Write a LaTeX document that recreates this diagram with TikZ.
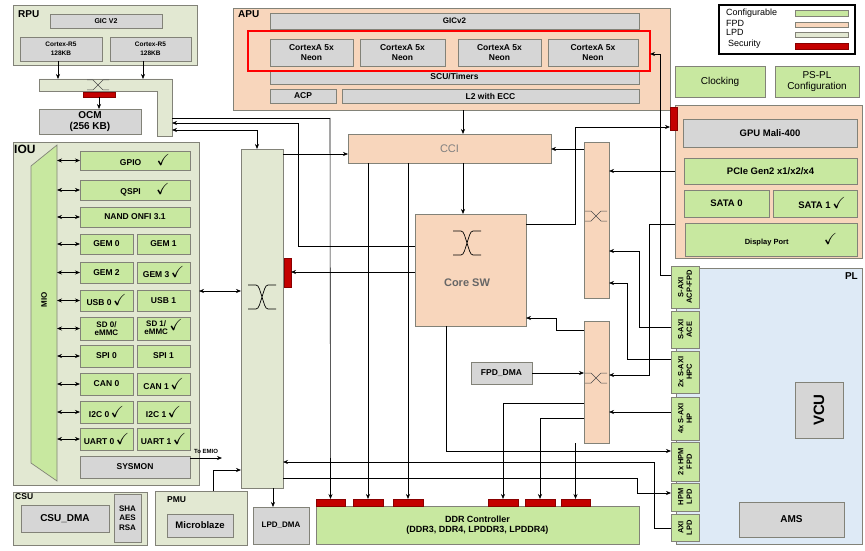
\documentclass[tikz,border=0pt]{standalone}
\usepackage{fontspec}
\usepackage{amssymb}
\setmainfont{Liberation Sans}
\usetikzlibrary{arrows.meta}
\definecolor{cfg}{RGB}{200,232,160}
\definecolor{fpd}{RGB}{248,214,188}
\definecolor{lpd}{RGB}{226,232,210}
\definecolor{gbox}{RGB}{214,214,214}
\definecolor{sec}{RGB}{196,0,0}
\definecolor{plc}{RGB}{222,234,246}
\definecolor{edge}{RGB}{130,130,120}
\newcommand\bx[7]{\node[#2,anchor=north west,minimum width={#5pt-#3pt},minimum height={#6pt-#4pt}] (#1) at (#3,#4) {#7};}
\newcommand\ck{\,{\fontsize{16}{16}\selectfont$\checkmark$}}
\tikzset{
 box/.style={draw=edge,line width=0.7pt,inner sep=1pt,outer sep=0pt,align=center,font=\fontsize{8.5}{9.5}\selectfont\bfseries},
 cf/.style={box,fill=cfg}, fp/.style={box,fill=fpd}, lp/.style={box,fill=lpd},
 gr/.style={box,fill=gbox}, sc/.style={box,fill=sec,draw=sec!70!black},
 pl/.style={box,fill=plc},
 port/.style={cf},
 ttl/.style={anchor=north west,inner sep=0pt,font=\fontsize{10}{11}\selectfont\bfseries},
 arr/.style={-{Stealth[length=5pt,width=4pt]},line width=0.6pt},
 dbl/.style={{Stealth[length=5pt,width=4pt]}-{Stealth[length=5pt,width=4pt]},line width=0.6pt},
 ln/.style={line width=0.6pt},
 xs/.pic={\draw[line width=0.7pt] (-14,-12)--(-6,-12) .. controls (-3,-12) and (-2,-6) .. (0,0) .. controls (2,6) and (3,12) .. (6,12)--(14,12) (-14,12)--(-6,12) .. controls (-3,12) and (-2,6) .. (0,0) .. controls (2,-6) and (3,-12) .. (6,-12)--(14,-12);},
 xss/.pic={\draw[line width=0.5pt,gray!60!black] (-11,-5)--(-5,-5)--(5,5)--(11,5) (-11,5)--(-5,5)--(5,-5)--(11,-5);}
}
\begin{document}
\begin{tikzpicture}[x=1pt,y=-1pt]
\useasboundingbox[fill=white] (0,0) rectangle (865,551);
% RPU
\bx{rpu}{lp}{13}{5}{197}{65}{}
\node[ttl] at (18,10) {RPU};
\bx{gicr}{gr,font=\fontsize{7}{8}\selectfont\bfseries}{50}{14}{162}{28}{GIC V2}
\bx{r5a}{gr,font=\fontsize{6.5}{9}\selectfont\bfseries}{20}{37}{102}{61}{Cortex-R5\\128KB}
\bx{r5b}{gr,font=\fontsize{6.5}{9}\selectfont\bfseries}{110}{37}{191}{61}{Cortex-R5\\128KB}
\draw[lp] (39,79)--(172,79)--(172,136)--(157,136)--(157,91)--(39,91)--cycle;
\coordinate (ocmi) at (164,79);
\pic at (98,85) {xss};
\bx{ocmsec}{sc}{83}{92}{115}{97}{}
\bx{ocm}{gr,font=\fontsize{10}{11}\selectfont\bfseries}{39}{109}{141}{134}{OCM\\(256 KB)}
\coordinate (ri1) at (58,79); \coordinate (ri2) at (143,79);
\draw[arr] (r5a.south -| ri1) -- (ri1);
\draw[arr] (r5b.south -| ri2) -- (ri2);
\draw[arr] (ocmsec.south) -- (ocm.north -| ocmsec.south);
% APU
\bx{apu}{fp}{233}{8}{670}{110}{}
\node[ttl] at (238,10) {APU};
\bx{gicv}{gr,font=\fontsize{8}{9}\selectfont\bfseries}{270}{13}{639}{29}{GICv2}
\begin{scope}[every node/.append style={font=\fontsize{8}{9.5}\selectfont\bfseries}]
\bx{ca1}{gr}{270}{39}{353}{66}{CortexA 5x\\Neon}
\bx{ca2}{gr}{360}{39}{445}{66}{CortexA 5x\\Neon}
\bx{ca3}{gr}{458}{39}{541}{66}{CortexA 5x\\Neon}
\bx{ca4}{gr}{548}{39}{638}{66}{CortexA 5x\\Neon}
\bx{scu}{gr}{270}{70}{639}{84}{SCU/Timers}
\bx{acp}{gr}{270}{89}{336}{103}{ACP}
\bx{l2}{gr}{342}{89}{639}{103}{L2 with ECC}
\end{scope}
\draw[red,line width=1.6pt] (248,31) rectangle (650,71);
\coordinate (redr) at (650,54);
% legend
\draw[line width=1.2pt] (719,5) rectangle (855,54);
\begin{scope}[every node/.style={anchor=west,inner sep=0pt,font=\fontsize{9}{10}\selectfont}]
\node (lg1) at (726,13) {Configurable};
\node (lg2) at (726,23) {FPD};
\node (lg3) at (726,32) {LPD};
\node (lg4) at (728,44) {Security};
\end{scope}
\bx{sw1}{cf}{795}{10}{848}{16}{}
\bx{sw2}{fp}{795}{22}{848}{27}{}
\bx{sw3}{lp}{795}{32}{848}{37}{}
\bx{sw4}{sc}{795}{43}{848}{49}{}
\bx{clk}{cf,font=\fontsize{10}{11}\selectfont}{675}{66}{765}{97}{Clocking}
\bx{pspl}{cf,font=\fontsize{10}{11}\selectfont}{775}{66}{859}{97}{PS-PL\\Configuration}
% FPD peripherals
\bx{fpdr}{fp}{675}{105}{862}{258}{}
\bx{gpusec}{sc}{670}{107}{677}{130}{}
\bx{gpu}{gr,font=\fontsize{9.5}{10}\selectfont\bfseries}{683}{119}{857}{147}{GPU Mali-400}
\bx{pcie}{cf,font=\fontsize{9.5}{10}\selectfont\bfseries}{684}{158}{857}{184}{PCIe Gen2 x1/x2/x4}
\bx{sata0}{cf,font=\fontsize{9.5}{10}\selectfont\bfseries}{684}{190}{769}{217}{SATA 0}
\bx{sata1}{cf,font=\fontsize{9.5}{10}\selectfont\bfseries}{773}{190}{857}{217}{\hspace{14pt}SATA 1\ck}
\bx{dp}{cf}{685}{223}{857}{256}{\hspace{40pt}{\fontsize{7.5}{8}\selectfont Display Port}\hspace{34pt}\ck}
% PL
\bx{pl}{pl}{676}{268}{862}{544}{}
\node[anchor=north east,inner sep=0pt,font=\fontsize{10}{11}\selectfont\bfseries] at (858,272) {PL};
\bx{vcu}{gr}{795}{382}{843}{438}{}
\node[rotate=90,font=\fontsize{15}{16}\selectfont\bfseries] at (vcu.center) {VCU};
\bx{ams}{gr,font=\fontsize{10}{11}\selectfont\bfseries}{739}{502}{844}{537}{AMS}
\bx{p1}{port}{671}{266}{699}{308}{}
\bx{p2}{port}{671}{311}{699}{348}{}
\bx{p3}{port}{671}{351}{699}{393}{}
\bx{p4}{port}{671}{397}{699}{440}{}
\bx{p5}{port}{671}{442}{699}{481}{}
\bx{p6}{port}{671}{483}{699}{511}{}
\bx{p7}{port}{671}{514}{699}{541}{}
\begin{scope}[every node/.style={rotate=90,align=center,inner sep=0pt,font=\fontsize{7.5}{8.5}\selectfont\bfseries}]
\node at (p1.center) {S-AXI\\ACP-FPD};
\node at (p2.center) {S-AXI\\ACE};
\node at (p3.center) {2x S-AXI\\HPC};
\node at (p4.center) {4x S-AXI\\HP};
\node at (p5.center) {2x HPM\\FPD};
\node at (p6.center) {HPM\\LPD};
\node at (p7.center) {AXI\\LPD};
\end{scope}
% IOU
\bx{iou}{lp}{13}{142}{199}{485}{}
\node[ttl,font=\fontsize{12}{13}\selectfont\bfseries] at (14,145) {IOU};
\draw[box,fill=cfg] (31,166)--(57,145)--(57,481)--(31,463)--cycle;
\node[rotate=90,font=\fontsize{8}{9}\selectfont\bfseries] (mio) at (44,300) {MIO};
\bx{gpio}{cf}{80}{151}{190}{170}{\hspace{20pt}GPIO\hspace{14pt}\ck}
\bx{qspi}{cf}{80}{180}{190}{200}{\hspace{20pt}QSPI\hspace{14pt}\ck}
\bx{nand}{cf}{80}{207}{190}{227}{NAND ONFI 3.1}
\bx{gem0}{cf}{80}{234}{133}{254}{GEM 0}
\bx{gem1}{cf}{137}{234}{190}{254}{GEM 1}
\bx{gem2}{cf}{80}{262}{133}{283}{GEM 2}
\bx{gem3}{cf}{137}{262}{190}{283}{GEM 3\ck}
\bx{usb0}{cf}{80}{290}{133}{311}{USB 0\ck}
\bx{usb1}{cf}{137}{290}{190}{311}{USB 1}
\bx{sd0}{cf,font=\fontsize{8}{8.5}\selectfont\bfseries}{80}{317}{133}{340}{SD 0/\\eMMC}
\bx{sd1}{cf,font=\fontsize{8}{8.5}\selectfont\bfseries}{137}{317}{190}{340}{\begin{tabular}{@{}c@{}}SD 1/\\eMMC\end{tabular}\ck}
\bx{spi0}{cf}{80}{345}{133}{367}{SPI 0}
\bx{spi1}{cf}{137}{345}{190}{367}{SPI 1}
\bx{can0}{cf}{80}{373}{133}{395}{CAN 0}
\bx{can1}{cf}{137}{373}{190}{395}{CAN 1\ck}
\bx{i2c0}{cf}{80}{401}{133}{423}{I2C 0\ck}
\bx{i2c1}{cf}{137}{401}{190}{423}{I2C 1\ck}
\bx{uart0}{cf}{80}{428}{133}{450}{UART 0\ck}
\bx{uart1}{cf}{137}{428}{190}{450}{UART 1\ck}
\bx{sysmon}{gr}{80}{456}{190}{478}{SYSMON}
\foreach \n in {gpio,qspi,nand,gem0,gem2,usb0,sd0,spi0,can0,i2c0,uart0}
  \draw[dbl] (\n.west -| 57,0) -- (\n.west);
% CSU, PMU
\bx{csu}{lp}{13}{492}{147}{545}{}
\node[ttl,font=\fontsize{8.5}{9}\selectfont\bfseries] at (15,493) {CSU};
\bx{csudma}{gr,font=\fontsize{10}{11}\selectfont\bfseries}{21}{505}{109}{532}{CSU\_DMA}
\bx{sha}{gr,font=\fontsize{8}{9.5}\selectfont\bfseries}{114}{494}{141}{542}{SHA\\AES\\RSA}
\bx{pmu}{lp}{155}{491}{247}{545}{}
\node[ttl,font=\fontsize{8.5}{9}\selectfont\bfseries] at (167,496) {PMU};
\bx{mb}{gr,font=\fontsize{9.5}{10}\selectfont\bfseries}{167}{514}{233}{537}{Microblaze}
% LPD switch
\bx{lpdsw}{lp}{241}{149}{283}{488}{}
\pic at (262,297) {xs};
\bx{lpdsec}{sc}{284}{258}{291}{287}{}
\bx{lpddma}{gr,font=\fontsize{8}{9}\selectfont\bfseries}{253}{507}{309}{544}{LPD\_DMA}
% DDR
\bx{ddr}{cf,font=\fontsize{9}{10.5}\selectfont\bfseries}{316}{506}{639}{544}{DDR Controller\\(DDR3, DDR4, LPDDR3, LPDDR4)}
\bx{d1}{sc}{316}{499}{345}{506}{}
\bx{d2}{sc}{353}{499}{383}{506}{}
\bx{d3}{sc}{393}{499}{423}{506}{}
\bx{d4}{sc}{488}{499}{518}{506}{}
\bx{d5}{sc}{525}{499}{555}{506}{}
\bx{d6}{sc}{561}{499}{590}{506}{}
% CCI, Core SW, switches
\bx{cci}{fp,font=\fontsize{11}{12}\selectfont,text=gray}{348}{134}{551}{163}{CCI}
\bx{core}{fp}{415}{214}{526}{326}{}
\pic at (467,243) {xs};
\node[font=\fontsize{11}{12}\selectfont\bfseries,text=gray!80!black] at (467,283) {Core SW};
\bx{rsw1}{fp}{584}{142}{609}{298}{}
\pic at (596,216) {xss};
\bx{rsw2}{fp}{584}{321}{609}{443}{}
\pic at (596,378) {xss};
\bx{fpddma}{gr}{471}{362}{532}{384}{FPD\_DMA}
% connectors
\draw[arr] (apu.south -| 463,0) -- (cci.north -| 463,0);
\draw[arr] (cci.south -| 463,0) -- (core.north -| 463,0);
\draw[arr] (lpdsw.east |- 0,154) -- (cci.west |- 0,154);
\draw[ln] (ocmi |- 0,118) ++(8,0) -- (330,118) coordinate (c1);
\draw[arr] (c1) -- (d1.north);
\draw[arr] (core.west |- 0,246) -- (298,246) -- (298,123) -- (172,123);
\draw[arr] (257,130) -- (172,130);
\draw[arr] (257,130) -- (lpdsw.north -| 257,0);
\draw[arr] (core.west |- 0,272) -- (lpdsec.east |- 0,272);
\draw[dbl] (iou.east |- 0,291) -- (lpdsw.west |- 0,291);
\draw[arr] (sysmon.east |- 0,458) -- (222,458) node[midway,above=1pt,font=\fontsize{6}{6}\selectfont\bfseries] {To EMIO};
\draw[arr] (pmu.north -| 213,0) -- (213,470) -- (lpdsw.west |- 0,470);
\draw[arr] (lpdsw.south -| 273,0) -- (lpddma.north -| 273,0);
\draw[arr] (p7.west |- 0,528) -- (654,528) -- (654,462) -- (lpdsw.east |- 0,462);
\draw[arr] (lpdsw.east |- 0,478) -- (637,478) -- (637,493) -- (p6.west |- 0,493);
\draw[arr] (cci.south -| d2.north) -- (d2.north);
\draw[arr] (cci.south -| d3.north) -- (d3.north);
\draw[arr] (core.south -| 446,0) -- (446,451) -- (p5.west |- 0,451);
\draw[arr] (core.east |- 0,224) -- (575,224) -- (575,127) -- (gpusec.west |- 0,127);
\draw[arr] (rsw1.west |- 0,149) -- (cci.east |- 0,149);
\draw[arr] (fpdr.west |- 0,171) -- (rsw1.east |- 0,171);
\draw[arr] (fpdr.west |- 0,224) -- (649,224) -- (649,375) -- (rsw2.east |- 0,375);
\draw[arr] (p1.west |- 0,275) -- (660,275) -- (660,54) -- (redr);
\draw[arr] (p2.west |- 0,327) -- (639,327) -- (639,251) -- (rsw1.east |- 0,251);
\draw[arr] (p3.west |- 0,359) -- (627,359) -- (627,283) -- (rsw1.east |- 0,283);
\draw[arr] (p4.west |- 0,412) -- (rsw2.east |- 0,412);
\draw[arr] (rsw2.west |- 0,330) -- (556,330) -- (556,318) -- (core.east |- 0,318);
\draw[arr] (fpddma.east |- 0,373) -- (rsw2.west |- 0,373);
\draw[arr] (rsw2.west |- 0,403) -- (503,403) -- (d4.north);
\draw[arr] (rsw2.west |- 0,418) -- (540,418) -- (d5.north);
\draw[arr] (rsw2.south -| d6.north) -- (d6.north);
\end{tikzpicture}
\end{document}
